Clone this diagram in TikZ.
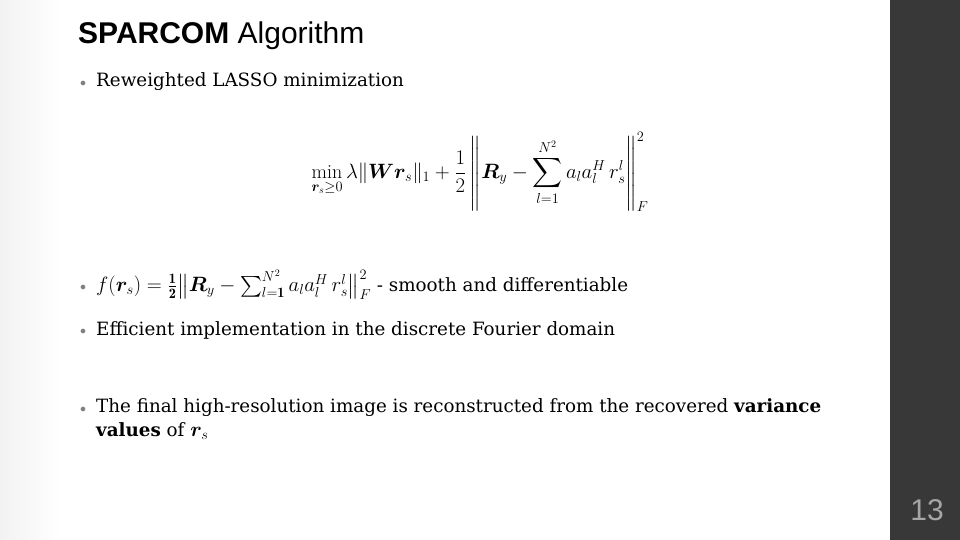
\documentclass[tikz,border=0pt]{standalone}
\usepackage{amsmath,bm}
\usepackage{fontspec}
\newfontfamily\titlefont{Liberation Sans}
\newfontfamily\bodyfont{DejaVu Serif}
\begin{document}
\begin{tikzpicture}[x=1pt,y=-1pt,
  txt/.style={anchor=west,inner sep=0pt,font=\bodyfont\fontsize{18.3}{22}\selectfont},
  bul/.style={anchor=center,inner sep=0pt,font=\fontsize{12}{12}\selectfont,text=gray}]
\useasboundingbox (0,0) rectangle (960,540);
\fill[white] (0,0) rectangle (960,540);
\shade[left color=black!5,right color=white] (0,0) rectangle (60,540);
\fill[black!78] (890,0) rectangle (960,540);
\node[anchor=east,inner sep=0pt,text=black!35,font=\titlefont\fontsize{30}{30}\selectfont] (pg) at (944,510) {13};
\node[anchor=west,inner sep=0pt,font=\titlefont\fontsize{30}{32}\selectfont] (title) at (78,36) {\textbf{SPARCOM} Algorithm};
\node[bul] (b1) at (83,84) {$\bullet$};
\node[txt] (t1) at (96,82) {Reweighted LASSO minimization};
\node[inner sep=0pt,font=\fontsize{20}{24}\selectfont] (eq) at (480,172)
 {$\displaystyle\min_{\bm r_s\geq 0}\lambda\|\bm W\bm r_s\|_1+\frac12\left\|\bm R_y-\sum_{l=1}^{N^2}a_la_l^H\,r_s^l\right\|_F^2$};
\node[bul] (b2) at (83,288) {$\bullet$};
\node[txt] (t2) at (96,285) {\fontsize{20.5}{24}\selectfont$f(\bm r_s)=\frac{\mathbf 1}{\mathbf 2}\big\|\bm R_y-\sum_{l=\mathbf 1}^{N^2}a_la_l^H\,r_s^l\big\|_F^2$\bodyfont\fontsize{18.3}{22}\selectfont{} - smooth and differentiable};
\node[bul] (b3) at (83,332) {$\bullet$};
\node[txt] (t3) at (96,330) {Efficient implementation in the discrete Fourier domain};
\node[bul] (b4) at (83,410) {$\bullet$};
\node[txt] (t4) at (96,408) {The final high-resolution image is reconstructed from the recovered \textbf{variance}};
\node[txt] (t5) at (96,431) {\textbf{values} of {\fontsize{21.5}{24}\selectfont$\bm r_s$}};
\end{tikzpicture}
\end{document}
